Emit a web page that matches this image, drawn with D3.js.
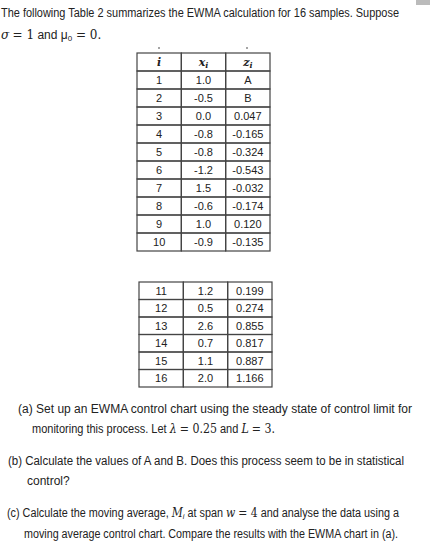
<!DOCTYPE html>
<html><head><meta charset="utf-8">
<script src="https://cdn.jsdelivr.net/npm/d3@7"></script>
<style>body{margin:0;background:#fff}svg{display:block}</style>
</head><body>
<script>
const idx1 = ["1","2","3","4","5","6","7","8","9","10"];
const x1 = ["1.0","-0.5","0.0","-0.8","-0.8","-1.2","1.5","-0.6","1.0","-0.9"];
const z1 = ["A","B","0.047","-0.165","-0.324","-0.543","-0.032","-0.174","0.120","-0.135"];
const idx2 = ["11","12","13","14","15","16"];
const x2 = ["1.2","0.5","2.6","0.7","1.1","2.0"];
const z2 = ["0.199","0.274","0.855","0.817","0.887","1.166"];

const W = 430, H = 547;
const svg = d3.select("body").append("svg").attr("width", W).attr("height", H)
  .style("font-family", "Liberation Sans, Arial, sans-serif");

svg.append("rect").attr("x", 416).attr("y", 0).attr("width", 14).attr("height", 5).attr("fill", "#bbb");

function text(x, y, s, len) {
  const t = svg.append("text").attr("x", x).attr("y", y).attr("font-size", 12).attr("fill", "#222").html(s);
  if (len) t.attr("textLength", len).attr("lengthAdjust", "spacingAndGlyphs");
  return t;
}
text(1, 17, "The following Table 2 summarizes the EWMA calculation for 16 samples. Suppose", 398);
text(1, 39, '<tspan font-family="DejaVu Serif" font-style="italic">σ</tspan> <tspan font-family="DejaVu Serif">= 1</tspan> and μ<tspan font-size="8" dy="2">0</tspan><tspan dy="-2" font-family="DejaVu Serif"> = 0.</tspan>');

function table(rows, left, right, top, bottom, header) {
  const xs = d3.scaleBand().domain([0, 1, 2]).range([left, right]);
  const labels = header ? ["head"].concat(rows[0]) : rows[0];
  const ys = d3.scaleBand().domain(labels).range([top, bottom]);
  const g = svg.append("g");
  labels.forEach((lab, r) => {
    [0, 1, 2].forEach(c => {
      g.append("rect").attr("x", xs(c)).attr("y", ys(lab)).attr("width", xs.bandwidth()).attr("height", ys.bandwidth())
        .attr("fill", "none").attr("stroke", "#444").attr("stroke-width", 1.2);
      let s, it = false;
      if (header && r === 0) { s = ["i", "x<tspan font-size='8' dy='2'>i</tspan>", "z<tspan font-size='8' dy='2'>i</tspan>"][c]; it = true; }
      else s = rows[c][header ? r - 1 : r];
      const t = g.append("text").attr("x", xs(c) + xs.bandwidth() / 2).attr("y", ys(lab) + ys.bandwidth() / 2 + 4)
        .attr("text-anchor", "middle").attr("font-size", 11).attr("fill", "#222").html(s);
      if (it) t.attr("font-family", "DejaVu Serif").attr("font-style", "italic").attr("font-weight", "bold");
    });
  });
}
table([idx1, x1, z1], 137, 270, 53, 251, true);
table([idx2, x2, z2], 139, 272, 282, 387, false);
svg.append("circle").attr("cx", 159).attr("cy", 48).attr("r", 0.8).attr("fill", "#333");
svg.append("circle").attr("cx", 247).attr("cy", 48).attr("r", 0.8).attr("fill", "#333");

const ser = s => `<tspan font-family="DejaVu Serif">${s}</tspan>`;
const it = s => `<tspan font-family="DejaVu Serif" font-style="italic">${s}</tspan>`;
text(18, 413, "(a) Set up an EWMA control chart using the steady state of control limit for", 394);
text(32, 433, `monitoring this process.  Let ${it("λ")} ${ser("= 0.25")} and ${it("L")} ${ser("= 3.")}`, 243);
text(8, 465, "(b) Calculate the values of A and B. Does this process seem to be in statistical", 396);
text(27, 485, "control?");
text(7, 517, `(c) Calculate the moving average, ${it("M")}<tspan font-size="8" dy="2" font-style="italic">i</tspan><tspan dy="-2"> at span ${it("w")} ${ser("= 4")} and analyse the data using a</tspan>`, 392);
text(24, 538, "moving average control chart. Compare the results with the EWMA chart in (a).", 374);
</script>
</body></html>
